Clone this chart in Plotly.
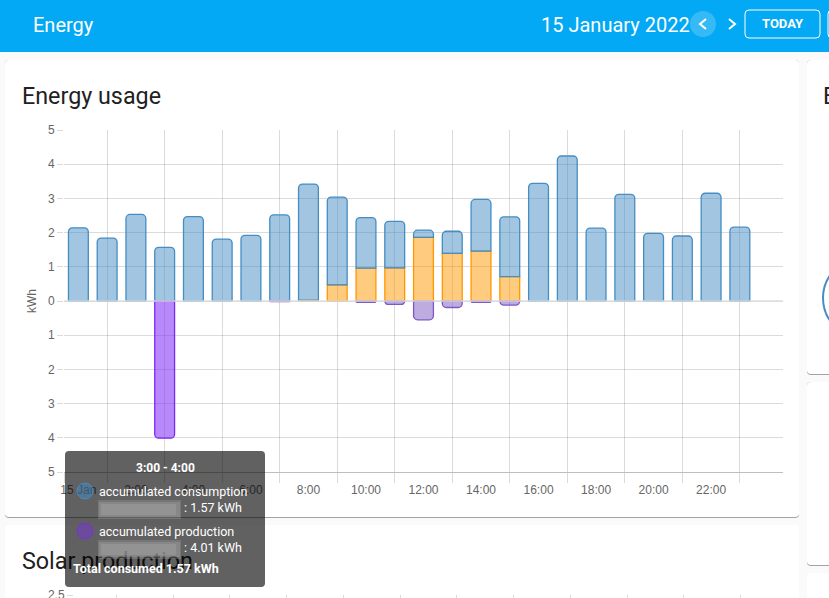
import plotly.graph_objects as go

##### Data #####

W = 829
H = 598

hours = list(range(24))
# kWh for each hour, None where the bar is not drawn
consumed_total = [2.14, 1.84, 2.53, 1.57, 2.47, 1.81, 1.92, 2.52, 3.42, 3.04, 2.44, 2.33,
                  2.07, 2.04, 2.97, 2.46, 3.44, 4.24, 2.13, 3.12, 1.98, 1.90, 3.15, 2.16]
solar_used = [None, None, None, None, None, None, None, None, 0.02, 0.47, 0.96, 0.97,
              1.86, 1.39, 1.46, 0.71, None, None, None, None, None, None, None, None]
production_a = [None, None, None, -4.01, None, None, None, None, None, None, None, None,
                None, None, None, None, None, None, None, None, None, None, None, None]
production_b = [None, None, None, None, None, None, None, -0.02, None, None, -0.04, -0.10,
                -0.55, -0.19, -0.04, -0.12, None, None, None, None, None, None, None, None]
grid_used = [round(t - (s or 0), 2) for t, s in zip(consumed_total, solar_used)]

x_label_vals = list(range(0, 24, 2))
x_labels = ["15 Jan", "2:00", "4:00", "6:00", "8:00", "10:00", "12:00", "14:00",
            "16:00", "18:00", "20:00", "22:00"]
x_grid_vals = [-0.5] + list(range(1, 24, 2))
y_vals = [5, 4, 3, 2, 1, 0, -1, -2, -3, -4, -5]
y_labels = ["5", "4", "3", "2", "1", "0", "1", "2", "3", "4", "5"]

GRID = "rgba(0,0,0,0.14)"
TICK_TEXT = "#666666"
SANS = "Liberation Sans"
ROBOTO = "Roboto"


def px(x):
    return x / W


def py(y):
    return 1 - y / H


def box(x0, y0, x1, y1, color, layer="below", r=0, line=None):
    # rounded rectangle in page pixels
    if r:
        path = (f"M{px(x0 + r)},{py(y0)} L{px(x1 - r)},{py(y0)} Q{px(x1)},{py(y0)} {px(x1)},{py(y0 + r)} "
                f"L{px(x1)},{py(y1 - r)} Q{px(x1)},{py(y1)} {px(x1 - r)},{py(y1)} "
                f"L{px(x0 + r)},{py(y1)} Q{px(x0)},{py(y1)} {px(x0)},{py(y1 - r)} "
                f"L{px(x0)},{py(y0 + r)} Q{px(x0)},{py(y0)} {px(x0 + r)},{py(y0)} Z")
        return dict(type="path", path=path, xref="paper", yref="paper", fillcolor=color,
                    line=line or dict(width=0), layer=layer)
    return dict(type="rect", xref="paper", yref="paper", x0=px(x0), x1=px(x1), y0=py(y0), y1=py(y1),
                fillcolor=color, line=line or dict(width=0), layer=layer)


def circle(cx, cy, r, color, line=None, layer="above"):
    return dict(type="circle", xref="paper", yref="paper", x0=px(cx - r), x1=px(cx + r),
                y0=py(cy - r), y1=py(cy + r), fillcolor=color, line=line or dict(width=0), layer=layer)


def chevron(x0, xm, cy, h):
    return dict(type="path", xref="paper", yref="paper", layer="above",
                path=f"M{px(x0)},{py(cy - h)} L{px(xm)},{py(cy)} L{px(x0)},{py(cy + h)}",
                line=dict(color="white", width=2))


def label(x, y, text, size, color="white", anchor="left", font=ROBOTO, bold=False):
    # annotations sit 2px to the right of the x they get when anchored left
    if anchor == "left":
        x = x - 2
    return dict(x=px(x), y=py(y), xref="paper", yref="paper", text=f"<b>{text}</b>" if bold else text,
                showarrow=False, xanchor=anchor, yanchor="middle",
                font=dict(family=font, size=size, color=color))


fig = go.Figure()

common = dict(x=hours, width=0.69, marker_cornerradius=4)
fig.add_trace(go.Bar(y=solar_used, name="solar", **common,
                     marker=dict(color="rgba(255,152,0,0.5)", line=dict(color="#ff9800", width=1.3))))
fig.add_trace(go.Bar(y=grid_used, name="accumulated consumption", **common,
                     marker=dict(color="rgba(69,141,195,0.5)", line=dict(color="#458dc3", width=1.3))))
fig.add_trace(go.Bar(y=production_a, name="accumulated production", **common,
                     marker=dict(color="rgba(124,40,245,0.55)", line=dict(color="#7c28f5", width=1.3))))
fig.add_trace(go.Bar(y=production_b, name="production", **common,
                     marker=dict(color="rgba(126,87,194,0.5)", line=dict(color="#7e57c2", width=1.3))))

# page sized axes, only so that this title sits under the tooltip
fig.add_trace(go.Scatter(x=[22], y=[563], mode="text", text=["Solar production"], textposition="middle right",
                         textfont=dict(family=ROBOTO, size=23.3, color="#212121"), xaxis="x3", yaxis="y3",
                         hoverinfo="skip"))
# second chart, only its top edge is on the page
fig.add_trace(go.Scatter(x=[0], y=[2], mode="none", xaxis="x2", yaxis="y2", hoverinfo="skip"))

shapes = [
    # header and cards
    box(0, 0, W, 52, "#03a9f4"),
    box(5, 60, 799, 518, "rgba(0,0,0,0.35)", r=4),
    box(5, 60, 799, 517, "white", r=4),
    box(5, 525, 799, 640, "white", r=4),
    box(807, 60, 880, 375, "rgba(0,0,0,0.35)", r=4),
    box(807, 60, 880, 374, "white", r=4),
    box(807, 382, 880, 566, "rgba(0,0,0,0.35)", r=4),
    box(807, 382, 880, 565, "white", r=4),
    box(807, 573, 880, 640, "white", r=4),
    circle(863, 298, 40, "rgba(0,0,0,0)", line=dict(color="#458dc3", width=2), layer="below"),
    # zero line runs over the foot of the bars
    dict(type="line", xref="x", yref="y", x0=-0.5, x1=24.5, y0=0, y1=0, layer="above",
         line=dict(color="#dedede", width=1.5)),
    # header buttons
    circle(703, 24, 13, "rgba(255,255,255,0.2)"),
    chevron(706, 700, 24, 5),
    chevron(729, 735, 24, 5),
    box(745, 10, 820, 38, "rgba(0,0,0,0)", layer="above", r=4, line=dict(color="white", width=1)),
    box(828, 10, 860, 38, "rgba(0,0,0,0)", layer="above", r=4, line=dict(color="white", width=1)),
    # tooltip
    box(65, 451, 265, 587, "rgba(0,0,0,0.62)", layer="above", r=4),
    box(98, 500, 181, 519, "rgba(170,170,170,0.3)", layer="above"),
    box(99, 502, 180, 517, "rgba(170,170,170,0.35)", layer="above"),
    box(101, 504, 176, 515, "rgba(170,170,170,0.35)", layer="above"),
    box(98, 540, 181, 559, "rgba(170,170,170,0.3)", layer="above"),
    box(99, 542, 180, 557, "rgba(170,170,170,0.35)", layer="above"),
    box(101, 544, 176, 555, "rgba(170,170,170,0.35)", layer="above"),
    circle(85, 491, 8, "rgba(69,141,195,0.5)", line=dict(color="rgba(69,141,195,0.9)", width=1)),
    circle(85, 531, 8, "rgba(124,40,245,0.4)", line=dict(color="rgba(124,40,245,0.7)", width=1)),
]

annotations = [
    label(33, 25, "Energy", 20),
    label(541, 25, "15 January 2022", 20),
    label(782.5, 24, "TODAY", 13, anchor="center", bold=True),
    label(22, 96, "Energy usage", 23.3, color="#212121"),
    label(823, 96, "E", 23.3, color="#212121"),
    label(165, 468, "3:00 - 4:00", 12, anchor="center", bold=True),
    label(99, 491, "accumulated consumption", 12.5),
    label(184, 507, ": 1.57 kWh", 12.5),
    label(99, 531, "accumulated production", 12.5),
    label(184, 547, ": 4.01 kWh", 12.5),
    label(73, 568, "Total consumed 1.57 kWh", 12.5, bold=True),
]

fig.update_layout(
    width=W,
    height=H,
    autosize=False,
    margin=dict(l=0, r=0, t=0, b=0, autoexpand=False),
    paper_bgcolor="#fafafa",
    plot_bgcolor="rgba(0,0,0,0)",
    barmode="relative",
    showlegend=False,
    shapes=shapes,
    annotations=annotations,
    xaxis=dict(
        domain=[px(64), px(783)], range=[-0.5, 24.5], tickmode="array",
        tickvals=x_label_vals, ticktext=x_labels, showgrid=False, zeroline=False,
        ticks="outside", ticklen=7, tickcolor="rgba(0,0,0,0)", tickangle=0,
        tickfont=dict(family=SANS, size=12, color=TICK_TEXT),
        showline=True, linecolor="rgba(0,0,0,0.25)", linewidth=1,
        minor=dict(tickmode="array", tickvals=x_grid_vals, showgrid=True, gridcolor=GRID, gridwidth=1,
                   ticks="outside", ticklen=10, tickcolor=GRID),
    ),
    yaxis=dict(
        domain=[py(472), py(130)], range=[-5, 5], tickmode="array",
        tickvals=y_vals, ticktext=y_labels, showgrid=True, gridcolor=GRID, gridwidth=1, zeroline=False,
        ticks="outside", ticklen=6, tickcolor=GRID,
        tickfont=dict(family=SANS, size=12, color=TICK_TEXT),
        title=dict(text="kWh", font=dict(family=SANS, size=12, color=TICK_TEXT), standoff=8),
    ),
    xaxis2=dict(
        domain=[px(74), px(783)], range=[-0.5, 24.5], anchor="y2", showticklabels=False, showgrid=False,
        zeroline=False, ticks="", tickmode="array", tickvals=[],
        minor=dict(tickmode="array", tickvals=x_grid_vals, showgrid=True, gridcolor=GRID, gridwidth=1),
    ),
    yaxis2=dict(
        domain=[0, py(595)], range=[2.4, 2.5], anchor="x2", tickmode="array", tickvals=[2.5], ticktext=["2.5"],
        showgrid=True, gridcolor=GRID, zeroline=False, ticks="outside", ticklen=6, tickcolor=GRID,
        ticklabeloverflow="allow",
        tickfont=dict(family=SANS, size=12, color=TICK_TEXT),
    ),
    xaxis3=dict(domain=[0, 1], range=[0, W], anchor="y3", visible=False),
    yaxis3=dict(domain=[0, 1], range=[H, 0], anchor="x3", visible=False),
)

# the page has to start at the window corner
pin = """
var gd = document.getElementById('{plot_id}');
document.documentElement.style.margin = '0';
document.body.style.margin = '0';
document.body.style.overflow = 'hidden';
gd.style.position = 'fixed';
gd.style.left = '0';
gd.style.top = '0';
"""
fig.write_html("out.html", config=dict(displayModeBar=False, responsive=False), post_script=pin)
